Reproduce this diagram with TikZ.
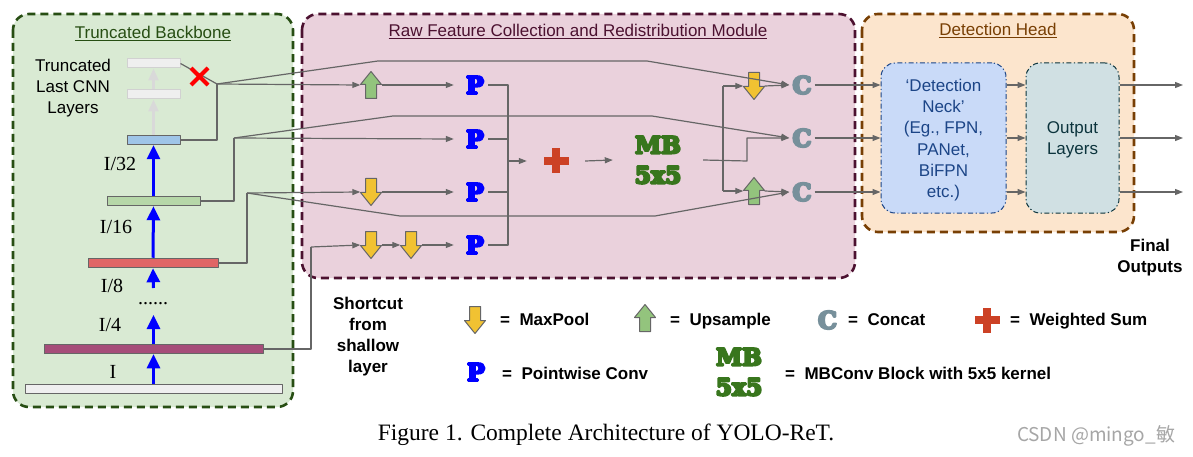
\documentclass[tikz,border=0pt]{standalone}
\usepackage{fontspec}
\setmainfont{Liberation Sans}
\newfontfamily\serifrm{Liberation Serif}
\newfontfamily\heavy{DejaVu Serif}
\newfontfamily\cjkfont{Noto Sans CJK SC}
\usetikzlibrary{arrows.meta,calc}
\newcommand\myfs[2]{\fontsize{#1}{#2}\selectfont}
\newcommand\hv[1]{\special{pdf:literal direct 2 Tr 2.2 w 1 j}#1\special{pdf:literal direct 0 Tr}}
\definecolor{bbfill}{HTML}{D9EAD3}
\definecolor{bbdraw}{HTML}{274E13}
\definecolor{modfill}{HTML}{EAD1DC}
\definecolor{moddraw}{HTML}{4C1130}
\definecolor{headfill}{HTML}{FCE5CD}
\definecolor{headdraw}{HTML}{783F04}
\definecolor{neckfill}{HTML}{C9DAF8}
\definecolor{neckdraw}{HTML}{1C4587}
\definecolor{outfill}{HTML}{D0E0E3}
\definecolor{outdraw}{HTML}{0C343D}
\definecolor{lgray}{HTML}{666666}
\definecolor{mpyellow}{HTML}{F1C232}
\definecolor{upgreen}{HTML}{93C47D}
\definecolor{crossred}{HTML}{CC4125}
\definecolor{cgray}{HTML}{77909B}
\definecolor{mbgreen}{HTML}{38761D}
\definecolor{pblue}{HTML}{0000FF}
\definecolor{l32c}{HTML}{9FC5E8}
\definecolor{l16c}{HTML}{B6D7A8}
\definecolor{l8c}{HTML}{E06666}
\definecolor{l4c}{HTML}{A64D79}
\definecolor{lightc}{HTML}{EFEFEF}
\definecolor{wmgray}{HTML}{A6A6A6}
\tikzset{
  conn/.style={draw=lgray, line width=1.2pt},
  arr/.style={conn, -{Triangle[length=8pt,width=6pt]}},
  barr/.style={draw=blue, line width=3pt, -{Triangle[length=14pt,width=13pt]}},
  garr/.style={draw=black!15, line width=2.5pt, -{Triangle[length=12pt,width=10pt]}},
  layer/.style={draw=lgray, line width=1pt, inner sep=0pt, minimum height=9.5pt},
  tlayer/.style={draw=black!18, fill=lightc, line width=1pt, inner sep=0pt, minimum height=9pt, minimum width=53pt},
  modbox/.style={dash pattern=on 8pt off 5pt, line width=2.6pt, rounded corners=16pt},
  innerbox/.style={dash pattern=on 5pt off 2.5pt on 1.2pt off 2.5pt, line width=1pt, rounded corners=14pt},
  pnode/.style={font=\heavy\bfseries\myfs{24}{24}, text=pblue, inner sep=0pt, minimum width=26pt, minimum height=20pt},
  cnode/.style={font=\heavy\bfseries\myfs{24}{24}, text=cgray, inner sep=0pt, minimum width=25pt, minimum height=20pt},
  mbnode/.style={font=\heavy\bfseries\myfs{23.5}{30}, text=mbgreen, align=center, inner sep=0pt, minimum width=90pt},
  wsnode/.style={inner sep=0pt, minimum width=58pt, minimum height=26pt},
  icon/.style={inner sep=0pt, minimum width=21pt, minimum height=26pt},
  title/.style={font=\myfs{17}{20}, anchor=base, inner sep=0pt},
  lbl/.style={font=\serifrm\myfs{20}{24}, inner sep=0pt},
  txt/.style={font=\myfs{17}{21.3}, align=center, inner sep=0pt},
  btxt/.style={font=\bfseries\myfs{17}{21}, align=center, inner sep=0pt},
  legtxt/.style={font=\bfseries\myfs{17}{20}, anchor=base west, inner sep=0pt},
  pics/downarr/.style={code={\path[draw=lgray, line width=1pt, fill=mpyellow] (-5.5,-13.5) -- (5.5,-13.5) -- (5.5,0.5) -- (10.5,0.5) -- (0,13.5) -- (-10.5,0.5) -- (-5.5,0.5) -- cycle;}},
  pics/uparr/.style={code={\path[draw=lgray, line width=1pt, fill=upgreen] (-5.5,13.5) -- (5.5,13.5) -- (5.5,-0.5) -- (10.5,-0.5) -- (0,-13.5) -- (-10.5,-0.5) -- (-5.5,-0.5) -- cycle;}},
  pics/plus/.style={code={\fill[crossred] (-4,-12.5) rectangle (4,12.5); \fill[crossred] (-12.5,-4) rectangle (12.5,4);}},
}
\begin{document}
\begin{tikzpicture}[x=1pt, y=-1pt, line join=round]
\useasboundingbox (0,0) rectangle (1193,457);
\fill[white] (0,0) rectangle (1193,457);

% ---------- module boxes ----------
\path[modbox, fill=bbfill, draw=bbdraw] (13,14) rectangle (293,407);
\path[modbox, fill=modfill, draw=moddraw] (302,14) rectangle (855,278);
\path[modbox, fill=headfill, draw=headdraw] (862,14) rectangle (1134,232);

\node[title, text=bbdraw] (ttlbb) at (153,39) {\underline{Truncated Backbone}};
\node[title, text=moddraw] (ttlmod) at (578,36.5) {\underline{Raw Feature Collection and Redistribution Module}};
\node[title, text=headdraw] (ttlhead) at (998,36) {\underline{Detection Head}};

% ---------- backbone ----------
\node[tlayer] (t1) at (153.5,63.5) {};
\node[tlayer] (t2) at (153.5,94.5) {};
\node[layer, fill=l32c, minimum width=53pt] (l32) at (153.5,140) {};
\node[layer, fill=l16c, minimum width=93pt] (l16) at (153.5,201) {};
\node[layer, fill=l8c, minimum width=130pt] (l8) at (153,263) {};
\node[layer, fill=l4c, minimum width=219pt] (l4) at (153.5,349) {};
\node[layer, fill=lightc, minimum width=257pt] (lin) at (153.5,389) {};

\coordinate (a4) at (153.5,315);
\coordinate (a8) at (153.5,288);
\draw[barr] (lin.north) -- (l4.south);
\draw[barr] (l4.north) -- (a4);
\draw[barr] (a8) -- (l8.south);
\draw[barr] (l8.north) -- (l16.south);
\draw[barr] (l16.north) -- (l32.south);
\draw[garr] (l32.north) -- (t2.south);
\draw[garr] (t2.north) -- (t1.south);

\node[lbl] (lI) at (113,372) {I};
\node[lbl] (lI4) at (110,325) {I/4};
\node[lbl] (ldots) at (153,304) {......};
\node[lbl] (lI8) at (112,286) {I/8};
\node[lbl] (lI16) at (116,227) {I/16};
\node[lbl] (lI32) at (120,164) {I/32};
\node[txt] (trunc) at (73,88) {Truncated\\Last CNN\\Layers};

% ---------- junctions ----------
\coordinate (j1) at (217,84);
\coordinate (j2) at (234,138);
\coordinate (j3) at (247,193);
\coordinate (j4) at (311,247);
\coordinate (b1) at (378,61);
\coordinate (b2) at (647,61);
\coordinate (g1) at (393,116);
\coordinate (g2) at (652,116);
\coordinate (r1) at (400,216);
\coordinate (r2) at (655,216);

% ---------- module nodes ----------
\node[icon] (up1) at (371,85) {};
\node[icon] (mp1) at (371,192) {};
\node[icon] (mp2) at (371,245) {};
\node[icon] (mp3) at (411,245) {};
\node[icon] (mp4) at (754,86) {};
\node[icon] (up2) at (754,191) {};
\pic at (up1) {uparr};
\pic at (mp1) {downarr};
\pic at (mp2) {downarr};
\pic at (mp3) {downarr};
\pic at (mp4) {downarr};
\pic at (up2) {uparr};

\node[pnode] (p1) at (475,85) {\hv{P}};
\node[pnode] (p2) at (475,139) {\hv{P}};
\node[pnode] (p3) at (475,192) {\hv{P}};
\node[pnode] (p4) at (475,245) {\hv{P}};
\coordinate (k) at (508,161);
\node[wsnode] (ws) at (556,161) {};
\pic at (ws) {plus};
\node[mbnode] (mb) at (658,160) {\hv{MB}\\\hv{5x5}};
\coordinate (d) at (723,161);
\coordinate (dtop) at (723,86);
\coordinate (dbot) at (723,191);
\coordinate (e) at (747,161);
\node[cnode] (c1) at (802,85) {\hv{C}};
\node[cnode] (c2) at (802,138) {\hv{C}};
\node[cnode] (c3) at (802,192) {\hv{C}};

% ---------- connectors: backbone -> module ----------
\draw[conn] (t1.east) -- (j1);
\draw[red, line width=4pt] (191,68) -- (208,85) (191,85) -- (208,68);
\draw[conn] (l32.east) -| (j1);
\draw[arr] (j1) -- (up1.west);
\draw[arr] (up1.east) -- ([xshift=-8pt]p1.west);
\draw[arr] (j1) -- (b1) -- (b2) -- (c1.west);

\draw[conn] (l16.east) -| (j2);
\draw[arr] (j2) -- ([xshift=-8pt]p2.west);
\draw[arr] (j2) -- (g1) -- (g2) -- (c2.west);

\draw[conn] (l8.east) -| (j3);
\draw[arr] (j3) -- (mp1.west);
\draw[arr] (mp1.east) -- ([xshift=-8pt]p3.west);
\draw[arr] (j3) -- (r1) -- (r2) -- (c3.west);

\draw[conn] (l4.east) -| (j4);
\draw[arr] (j4) -- (mp2.west);
\draw[arr] (mp2.east) -- (mp3.west);
\draw[arr] (mp3.east) -- ([xshift=-8pt]p4.west);

% ---------- inside module ----------
\draw[conn] (p1.east) -- (p1.east -| k) -- (p4.east -| k) -- (p4.east);
\draw[conn] (p2.east) -- (p2.east -| k);
\draw[conn] (p3.east) -- (p3.east -| k);
\draw[arr] (k) -- (ws.west);
\draw[arr] (ws.east) -- (mb.west);
\draw[arr] (mb.east) -- (e) |- (c2.west);
\draw[conn] (dtop) -- (dbot);
\draw[arr] (dtop) -- (mp4.west);
\draw[arr] (dbot) -- (up2.west);
\draw[arr] (mp4.east) -- (c1.west);
\draw[arr] (up2.east) -- (c3.west);

% ---------- detection head ----------
\node[innerbox, fill=neckfill, draw=neckdraw, minimum width=125pt, minimum height=150pt, inner sep=0pt] (neck) at (943.5,138) {};
\node[txt, text=neckdraw] (necktxt) at (943.5,140) {‘Detection\\Neck’\\(Eg., FPN,\\PANet,\\BiFPN\\etc.)};
\node[innerbox, fill=outfill, draw=outdraw, minimum width=93pt, minimum height=150pt, inner sep=0pt] (outl) at (1072.5,138) {};
\node[txt, text=outdraw] (outtxt) at (1072.5,140) {Output\\Layers};
\coordinate (fin) at (1183,0);

\draw[arr] (c1.east) -- (c1.east -| neck.west);
\draw[arr] (c2.east) -- (c2.east -| neck.west);
\draw[arr] (c3.east) -- (c3.east -| neck.west);
\draw[arr] (c1 -| neck.east) -- (c1 -| outl.west);
\draw[arr] (c2 -| neck.east) -- (c2 -| outl.west);
\draw[arr] (c3 -| neck.east) -- (c3 -| outl.west);
\draw[arr] (c1 -| outl.east) -- (c1 -| fin);
\draw[arr] (c2 -| outl.east) -- (c2 -| fin);
\draw[arr] (c3 -| outl.east) -- (c3 -| fin);

\node[btxt] (final) at (1150,257.5) {Final\\Outputs};
\node[btxt] (short) at (368,336.5) {Shortcut\\from\\shallow\\layer};

% ---------- legend ----------
\node[icon] (lmp) at (475,320) {};
\pic at (lmp) {downarr};
\node[legtxt] (tmp) at (500,325.5) {=~~MaxPool};
\node[icon] (lup) at (645,318) {};
\pic at (lup) {uparr};
\node[legtxt] (tup) at (670,325.5) {=~~Upsample};
\node[cnode] (lc) at (827.5,320) {\hv{C}};
\node[legtxt] (tc) at (848,325.5) {=~~Concat};
\node[wsnode, minimum width=26pt] (lws) at (987,320) {};
\pic at (lws) {plus};
\node[legtxt] (tws) at (1010,325.5) {=~~Weighted Sum};
\node[pnode] (lp) at (476,372) {\hv{P}};
\node[legtxt] (tp) at (502,379) {=~~Pointwise Conv};
\node[mbnode, minimum width=50pt] (lmb) at (739,372) {\hv{MB}\\\hv{5x5}};
\node[legtxt] (tmb) at (785,379) {=~~MBConv Block with 5x5 kernel};

% ---------- caption ----------
\node[font=\serifrm\myfs{23.5}{26}, inner sep=0pt] (cap) at (606,435) {Figure 1. Complete Architecture of YOLO-ReT.};
\node[font=\cjkfont\myfs{19}{22}, text=wmgray, inner sep=0pt] (wm) at (1096,436) {CSDN @mingo\_敏};
\end{tikzpicture}
\end{document}
